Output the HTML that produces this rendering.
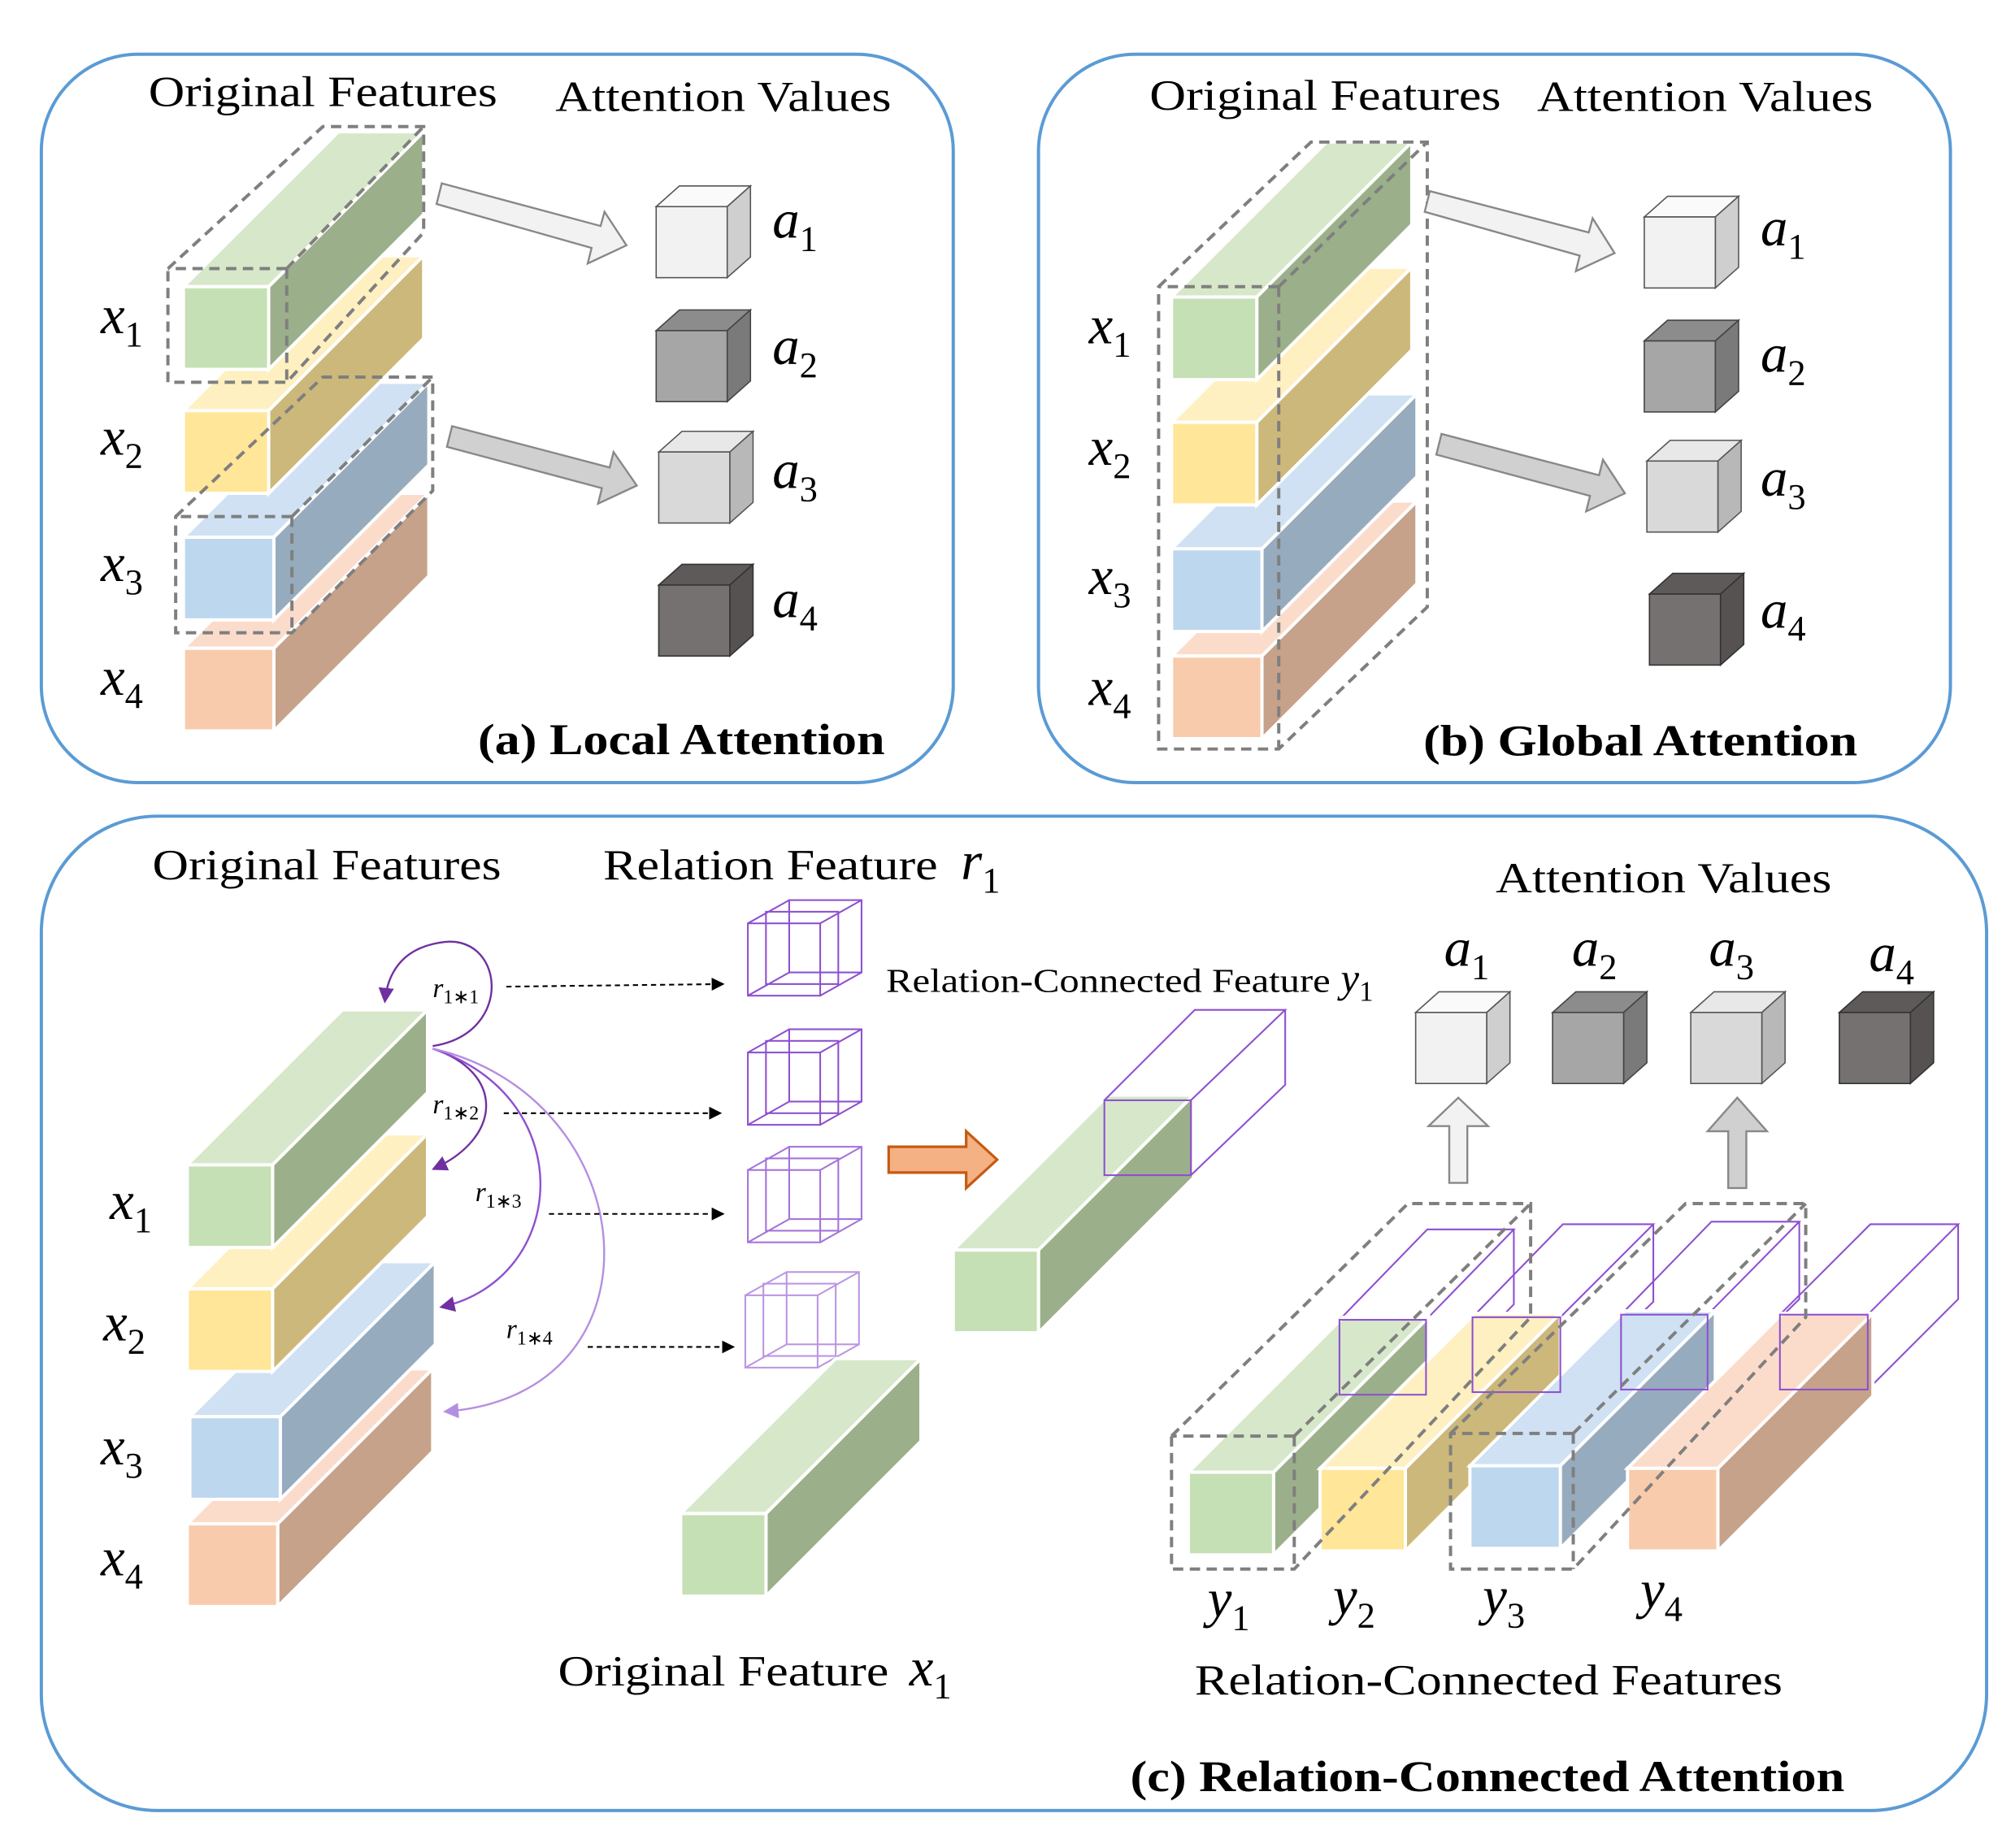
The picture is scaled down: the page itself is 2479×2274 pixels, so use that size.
<!DOCTYPE html>
<html><head><meta charset="utf-8"><style>
html,body{margin:0;padding:0;background:#fff}
svg{display:block}
.t{font-family:"Liberation Serif",serif;fill:#000}
.m{font-family:"Liberation Serif",serif;font-style:italic;fill:#000}
.m tspan{font-style:normal}
</style></head><body>
<svg width="2479" height="2274" viewBox="0 0 1560 1431" xmlns="http://www.w3.org/2000/svg">
<defs>
<g id="bg" stroke="#fff" stroke-width="2.5"><polygon points="0,0 120,-120 186,-120 66,0" fill="#d6e8c9"/><polygon points="66,0 186,-120 186,-56 66,64" fill="#9bb08a"/><rect x="0" y="0" width="66" height="64" fill="#c5e0b4"/></g>
<g id="by" stroke="#fff" stroke-width="2.5"><polygon points="0,0 120,-120 186,-120 66,0" fill="#fff0c2"/><polygon points="66,0 186,-120 186,-56 66,64" fill="#ccb87a"/><rect x="0" y="0" width="66" height="64" fill="#ffe699"/></g>
<g id="bb" stroke="#fff" stroke-width="2.5"><polygon points="0,0 120,-120 190,-120 70,0" fill="#cfe1f3"/><polygon points="70,0 190,-120 190,-56 70,64" fill="#97abbe"/><rect x="0" y="0" width="70" height="64" fill="#bdd7ee"/></g>
<g id="bo" stroke="#fff" stroke-width="2.5"><polygon points="0,0 120,-120 190,-120 70,0" fill="#fbdccb"/><polygon points="70,0 190,-120 190,-56 70,64" fill="#c6a28a"/><rect x="0" y="0" width="70" height="64" fill="#f8cbad"/></g>
<g id="c1" stroke="#555" stroke-width="1"><polygon points="0,0 18,-16 73,-16 55,0" fill="#fafafa"/><polygon points="55,0 73,-16 73,39 55,55" fill="#cfcfcf"/><rect width="55" height="55" fill="#f2f2f2"/></g>
<g id="c2" stroke="#444" stroke-width="1"><polygon points="0,0 18,-16 73,-16 55,0" fill="#8c8c8c"/><polygon points="55,0 73,-16 73,39 55,55" fill="#7a7a7a"/><rect width="55" height="55" fill="#a6a6a6"/></g>
<g id="c3" stroke="#555" stroke-width="1"><polygon points="0,0 18,-16 73,-16 55,0" fill="#e8e8e8"/><polygon points="55,0 73,-16 73,39 55,55" fill="#b8b8b8"/><rect width="55" height="55" fill="#d9d9d9"/></g>
<g id="c4" stroke="#333" stroke-width="1"><polygon points="0,0 18,-16 73,-16 55,0" fill="#5e5a5a"/><polygon points="55,0 73,-16 73,39 55,55" fill="#565252"/><rect width="55" height="55" fill="#767171"/></g>
<g id="wc" fill="none" stroke="#8e4fd0" stroke-width="1.3"><rect x="0" y="18" width="56" height="56"/><rect x="32" y="0" width="56" height="56"/><line x1="0" y1="18" x2="32" y2="0"/><line x1="56" y1="18" x2="88" y2="0"/><line x1="56" y1="74" x2="88" y2="56"/><line x1="0" y1="74" x2="32" y2="56"/><rect x="14" y="9" width="56" height="56"/></g>
<marker id="ah" markerWidth="10" markerHeight="10" refX="9" refY="5" orient="auto" markerUnits="userSpaceOnUse"><path d="M0,0 L10,5 L0,10z" fill="#000"/></marker>
<marker id="ph" markerWidth="12" markerHeight="12" refX="10" refY="6" orient="auto" markerUnits="userSpaceOnUse"><path d="M0,0 L12,6 L0,12z" fill="#7030a0"/></marker>
<marker id="ph2" markerWidth="12" markerHeight="12" refX="10" refY="6" orient="auto" markerUnits="userSpaceOnUse"><path d="M0,0 L12,6 L0,12z" fill="#b48fe0"/></marker>
</defs>
<rect x="32" y="42" width="706" height="564" rx="75" fill="none" stroke="#5b9bd5" stroke-width="2.5"/>
<rect x="804" y="42" width="706" height="564" rx="75" fill="none" stroke="#5b9bd5" stroke-width="2.5"/>
<rect x="32" y="632" width="1506" height="770" rx="90" fill="none" stroke="#5b9bd5" stroke-width="2.5"/>

<!-- (a) -->
<text class="t" x="115" y="82" font-size="33" textLength="270" lengthAdjust="spacingAndGlyphs">Original Features</text>
<text class="t" x="430" y="86" font-size="33" textLength="260" lengthAdjust="spacingAndGlyphs">Attention Values</text>
<use href="#bo" x="142" y="502"/><use href="#bb" x="142" y="416"/><use href="#by" x="142" y="318"/><use href="#bg" x="142" y="222"/>
<g fill="none" stroke="#7f7f7f" stroke-width="2.5" stroke-dasharray="8,5">
<path d="M130,208 L250,98 L328,98 L328,180 L222,296 L130,296 Z M222,208 L130,208 M222,208 L222,296 M222,208 L328,98"/>
<path d="M136,400 L250,292 L335,292 L335,380 L226,490 L136,490 Z M226,400 L136,400 M226,400 L226,490 M226,400 L335,292"/>
</g>
<text class="m" x="78" y="258" font-size="42">x<tspan font-size="28" dy="10">1</tspan></text>
<text class="m" x="78" y="352" font-size="42">x<tspan font-size="28" dy="10">2</tspan></text>
<text class="m" x="78" y="450" font-size="42">x<tspan font-size="28" dy="10">3</tspan></text>
<text class="m" x="78" y="538" font-size="42">x<tspan font-size="28" dy="10">4</tspan></text>
<polygon points="342,142 465,175 468,164 485,190 455,204 458,192 338,158" fill="#f2f2f2" stroke="#888" stroke-width="1.5"/>
<polygon points="350,330 472,362 475,350 493,376 463,390 466,378 346,346" fill="#d0d0d0" stroke="#888" stroke-width="1.5"/>
<use href="#c1" x="508" y="160"/><use href="#c2" x="508" y="256"/><use href="#c3" x="510" y="350"/><use href="#c4" x="510" y="453"/>
<text class="m" x="598" y="184" font-size="42">a<tspan font-size="28" dy="10">1</tspan></text>
<text class="m" x="598" y="282" font-size="42">a<tspan font-size="28" dy="10">2</tspan></text>
<text class="m" x="598" y="378" font-size="42">a<tspan font-size="28" dy="10">3</tspan></text>
<text class="m" x="598" y="478" font-size="42">a<tspan font-size="28" dy="10">4</tspan></text>
<text class="t" x="370" y="584" font-size="34" font-weight="bold" textLength="315" lengthAdjust="spacingAndGlyphs">(a) Local Attention</text>

<!-- (b) -->
<text class="t" x="890" y="85" font-size="33" textLength="272" lengthAdjust="spacingAndGlyphs">Original Features</text>
<text class="t" x="1190" y="86" font-size="33" textLength="260" lengthAdjust="spacingAndGlyphs">Attention Values</text>
<use href="#bo" x="907" y="508"/><use href="#bb" x="907" y="425"/><use href="#by" x="907" y="327"/><use href="#bg" x="907" y="230"/>
<path d="M897,222 L1015,110 L1105,110 L1105,470 L990,580 L897,580 Z M990,222 L897,222 M990,222 L990,580 M990,222 L1105,110" fill="none" stroke="#7f7f7f" stroke-width="2.5" stroke-dasharray="8,5"/>
<text class="m" x="843" y="266" font-size="42">x<tspan font-size="28" dy="10">1</tspan></text>
<text class="m" x="843" y="360" font-size="42">x<tspan font-size="28" dy="10">2</tspan></text>
<text class="m" x="843" y="460" font-size="42">x<tspan font-size="28" dy="10">3</tspan></text>
<text class="m" x="843" y="546" font-size="42">x<tspan font-size="28" dy="10">4</tspan></text>
<polygon points="1107,148 1230,180 1233,169 1250,196 1220,210 1223,198 1103,164" fill="#f2f2f2" stroke="#888" stroke-width="1.5"/>
<polygon points="1116,336 1238,368 1241,356 1258,382 1228,396 1231,384 1112,352" fill="#d0d0d0" stroke="#888" stroke-width="1.5"/>
<use href="#c1" x="1273" y="168"/><use href="#c2" x="1273" y="264"/><use href="#c3" x="1275" y="357"/><use href="#c4" x="1277" y="460"/>
<text class="m" x="1363" y="190" font-size="42">a<tspan font-size="28" dy="10">1</tspan></text>
<text class="m" x="1363" y="288" font-size="42">a<tspan font-size="28" dy="10">2</tspan></text>
<text class="m" x="1363" y="384" font-size="42">a<tspan font-size="28" dy="10">3</tspan></text>
<text class="m" x="1363" y="486" font-size="42">a<tspan font-size="28" dy="10">4</tspan></text>
<text class="t" x="1102" y="585" font-size="34" font-weight="bold" textLength="336" lengthAdjust="spacingAndGlyphs">(b) Global Attention</text>

<!-- (c) -->
<text class="t" x="118" y="681" font-size="33" textLength="270" lengthAdjust="spacingAndGlyphs">Original Features</text>
<text class="t" x="467" y="681" font-size="33" textLength="259" lengthAdjust="spacingAndGlyphs">Relation Feature</text>
<text class="m" x="744" y="681" font-size="42">r<tspan font-size="28" dy="10">1</tspan></text>
<use href="#bo" x="145" y="1180"/><use href="#bb" x="147" y="1097"/><use href="#by" x="145" y="998"/><use href="#bg" x="145" y="902"/>
<text class="m" x="85" y="944" font-size="42">x<tspan font-size="28" dy="10">1</tspan></text>
<text class="m" x="80" y="1038" font-size="42">x<tspan font-size="28" dy="10">2</tspan></text>
<text class="m" x="78" y="1134" font-size="42">x<tspan font-size="28" dy="10">3</tspan></text>
<text class="m" x="78" y="1220" font-size="42">x<tspan font-size="28" dy="10">4</tspan></text>
<g fill="none" stroke-width="1.5">
<path d="M335,810 C400,800 390,720 340,730 C310,735 300,755 298,775" stroke="#7030a0" marker-end="url(#ph)"/>
<path d="M335,812 C390,830 390,880 336,905" stroke="#7030a0" marker-end="url(#ph)"/>
<path d="M335,812 C450,850 440,990 342,1012" stroke="#8e4fd0" marker-end="url(#ph)"/>
<path d="M335,812 C500,850 520,1080 345,1093" stroke="#b48fe0" marker-end="url(#ph2)"/>
</g>
<text class="m" x="335" y="772" font-size="21">r<tspan font-size="15" dy="5">1∗1</tspan></text>
<text class="m" x="335" y="862" font-size="21">r<tspan font-size="15" dy="5">1∗2</tspan></text>
<text class="m" x="368" y="930" font-size="21">r<tspan font-size="15" dy="5">1∗3</tspan></text>
<text class="m" x="392" y="1036" font-size="21">r<tspan font-size="15" dy="5">1∗4</tspan></text>
<g stroke="#000" stroke-width="1.3" stroke-dasharray="4,3" marker-end="url(#ah)">
<line x1="392" y1="764" x2="560" y2="762"/><line x1="390" y1="862" x2="558" y2="862"/><line x1="425" y1="940" x2="560" y2="940"/><line x1="455" y1="1043" x2="568" y2="1043"/>
</g>
<use href="#wc" x="579" y="697"/><use href="#wc" x="579" y="797"/><use href="#wc" x="579" y="888" opacity="0.8"/><use href="#wc" x="577" y="985" opacity="0.6"/>
<polygon points="688,888 748,888 748,876 772,898 748,920 748,908 688,908" fill="#f4b183" stroke="#c55a11" stroke-width="2"/>
<text class="t" x="686" y="768" font-size="26" textLength="344" lengthAdjust="spacingAndGlyphs">Relation-Connected Feature</text>
<text class="m" x="1038" y="768" font-size="32">y<tspan font-size="22" dy="7">1</tspan></text>
<use href="#bg" x="738" y="968"/>
<g fill="none" stroke="#8e4fd0" stroke-width="1.3"><rect x="855" y="852" width="67" height="58"/><path d="M855,852 L925,782 L995,782 L922,852 M995,782 L995,840 L922,910"/></g>
<use href="#bg" x="527" y="1172"/>
<text class="t" x="432" y="1305" font-size="33" textLength="256" lengthAdjust="spacingAndGlyphs">Original Feature</text>
<text class="m" x="704" y="1305" font-size="42">x<tspan font-size="28" dy="10">1</tspan></text>
<text class="t" x="1158" y="691" font-size="33" textLength="260" lengthAdjust="spacingAndGlyphs">Attention Values</text>
<text class="m" x="1118" y="748" font-size="42">a<tspan font-size="28" dy="10">1</tspan></text>
<text class="m" x="1217" y="748" font-size="42">a<tspan font-size="28" dy="10">2</tspan></text>
<text class="m" x="1323" y="748" font-size="42">a<tspan font-size="28" dy="10">3</tspan></text>
<text class="m" x="1447" y="752" font-size="42">a<tspan font-size="28" dy="10">4</tspan></text>
<use href="#c1" x="1096" y="784"/><use href="#c2" x="1202" y="784"/><use href="#c3" x="1309" y="784"/><use href="#c4" x="1424" y="784"/>
<polygon points="1122,916 1122,872 1106,872 1129,850 1152,872 1136,872 1136,916" fill="#f2f2f2" stroke="#888" stroke-width="1.5"/>
<polygon points="1338,920 1338,876 1322,876 1345,850 1368,876 1352,876 1352,920" fill="#d0d0d0" stroke="#888" stroke-width="1.5"/>
<g fill="none" stroke="#8e4fd0" stroke-width="1.3">
<path d="M1037,1022 L1105,952 L1172,952 L1104,1022 M1172,952 L1172,1010 L1104,1080"/>
<path d="M1140,1020 L1210,948 L1280,948 L1208,1020 M1280,948 L1280,1008 L1208,1078"/>
<path d="M1255,1018 L1325,946 L1393,946 L1322,1018 M1393,946 L1393,1006 L1322,1076"/>
<path d="M1378,1018 L1448,948 L1516,948 L1446,1018 M1516,948 L1516,1006 L1446,1076"/>
</g>
<use href="#bg" x="920" y="1140"/><use href="#by" x="1022" y="1137"/><use href="#bb" x="1138" y="1135"/><use href="#bo" x="1260" y="1137"/>
<g fill="none" stroke="#8e4fd0" stroke-width="1.3">
<rect x="1037" y="1022" width="67" height="58"/><rect x="1140" y="1020" width="68" height="58"/><rect x="1255" y="1018" width="67" height="58"/><rect x="1378" y="1018" width="68" height="58"/>
</g>
<g fill="none" stroke="#7f7f7f" stroke-width="2.5" stroke-dasharray="8,5">
<path d="M907,1112 L1090,932 L1185,932 L1185,1020 L1002,1215 L907,1215 Z M1002,1112 L907,1112 M1002,1112 L1002,1215 M1002,1112 L1185,932"/>
<path d="M1123,1110 L1305,932 L1398,932 L1398,1020 L1218,1215 L1123,1215 Z M1218,1110 L1123,1110 M1218,1110 L1218,1215 M1218,1110 L1398,932"/>
</g>
<text class="m" x="935" y="1252" font-size="42">y<tspan font-size="28" dy="10">1</tspan></text>
<text class="m" x="1032" y="1250" font-size="42">y<tspan font-size="28" dy="10">2</tspan></text>
<text class="m" x="1148" y="1250" font-size="42">y<tspan font-size="28" dy="10">3</tspan></text>
<text class="m" x="1270" y="1245" font-size="42">y<tspan font-size="28" dy="10">4</tspan></text>
<text class="t" x="925" y="1312" font-size="33" textLength="455" lengthAdjust="spacingAndGlyphs">Relation-Connected Features</text>
<text class="t" x="875" y="1387" font-size="34" font-weight="bold" textLength="553" lengthAdjust="spacingAndGlyphs">(c) Relation-Connected Attention</text>
</svg>
</body></html>
